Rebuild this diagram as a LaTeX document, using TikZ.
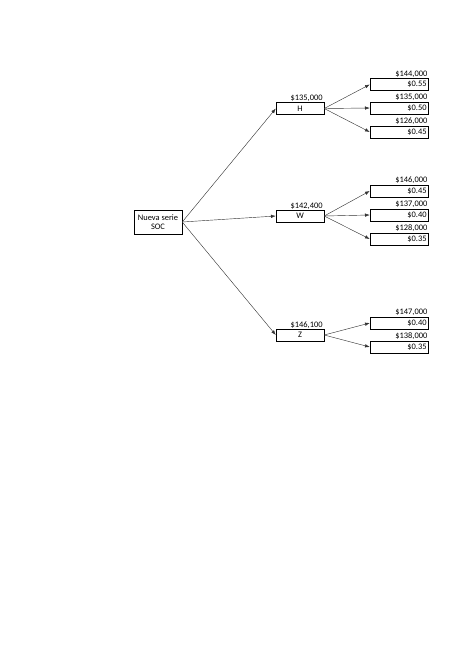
\documentclass[tikz,border=0pt]{standalone}
\usepackage{fontspec}
\setmainfont{Carlito}
\usetikzlibrary{arrows.meta}
\tikzset{
  treefont/.style={font=\fontsize{12}{12}\selectfont},
  rootbox/.style={treefont, draw=black, line width=0.6pt, minimum width=2.4cm, minimum height=1.2cm, inner sep=0pt, align=center},
  midbox/.style={treefont, draw=black, line width=0.6pt, minimum width=2.4cm, minimum height=0.58cm, inner sep=0pt},
  leafbox/.style={treefont, draw=black, line width=0.6pt, minimum height=0.6cm, inner xsep=2pt, inner ysep=0pt, text width=2.9cm-4pt, align=right},
  midlabel/.style={treefont, anchor=south east, inner xsep=2pt, inner ysep=1pt},
  leaflabel/.style={treefont, anchor=south east, inner sep=1pt},
  branch/.style={line width=0.6pt, draw=black!80, -{Latex[length=0.24cm,width=0.17cm]}},
}

\begin{document}
\begin{tikzpicture}[x=0.05cm, y=-0.05cm]
\useasboundingbox (0,0) rectangle (474,670);
% root
\node[rootbox] (soc) at (158,222) {Nueva serie\\SOC};
% second level
\node[midbox] (h) at (300,108.5) {H};
\node[midlabel] (hv) at (h.north east) {\$135,000};
\node[midbox] (w) at (300,216) {W};
\node[midlabel] (wv) at (w.north east) {\$142,400};
\node[midbox] (z) at (300,335) {Z};
\node[midlabel] (zv) at (z.north east) {\$146,100};
% leaves of H
\node[leafbox] (h1) at (399,84.5) {\$0.55};
\node[leaflabel] (h1v) at (h1.north east) {\$144,000};
\node[leafbox] (h2) at (399,108) {\$0.50};
\node[leaflabel] (h2v) at (h2.north east) {\$135,000};
\node[leafbox] (h3) at (399,132) {\$0.45};
\node[leaflabel] (h3v) at (h3.north east) {\$126,000};
% leaves of W
\node[leafbox] (w1) at (399,191) {\$0.45};
\node[leaflabel] (w1v) at (w1.north east) {\$146,000};
\node[leafbox] (w2) at (399,215) {\$0.40};
\node[leaflabel] (w2v) at (w2.north east) {\$137,000};
\node[leafbox] (w3) at (399,239) {\$0.35};
\node[leaflabel] (w3v) at (w3.north east) {\$128,000};
% leaves of Z
\node[leafbox] (z1) at (399,323) {\$0.40};
\node[leaflabel] (z1v) at (z1.north east) {\$147,000};
\node[leafbox] (z2) at (399,347) {\$0.35};
\node[leaflabel] (z2v) at (z2.north east) {\$138,000};
% branches
\draw[branch] (soc.east) -- (h.west);
\draw[branch] (soc.east) -- (w.west);
\draw[branch] (soc.east) -- (z.west);
\draw[branch] (h.east) -- (h1.west);
\draw[branch] (h.east) -- (h2.west);
\draw[branch] (h.east) -- (h3.west);
\draw[branch] (w.east) -- (w1.west);
\draw[branch] (w.east) -- (w2.west);
\draw[branch] (w.east) -- (w3.west);
\draw[branch] (z.east) -- (z1.west);
\draw[branch] (z.east) -- (z2.west);
\end{tikzpicture}
\end{document}
